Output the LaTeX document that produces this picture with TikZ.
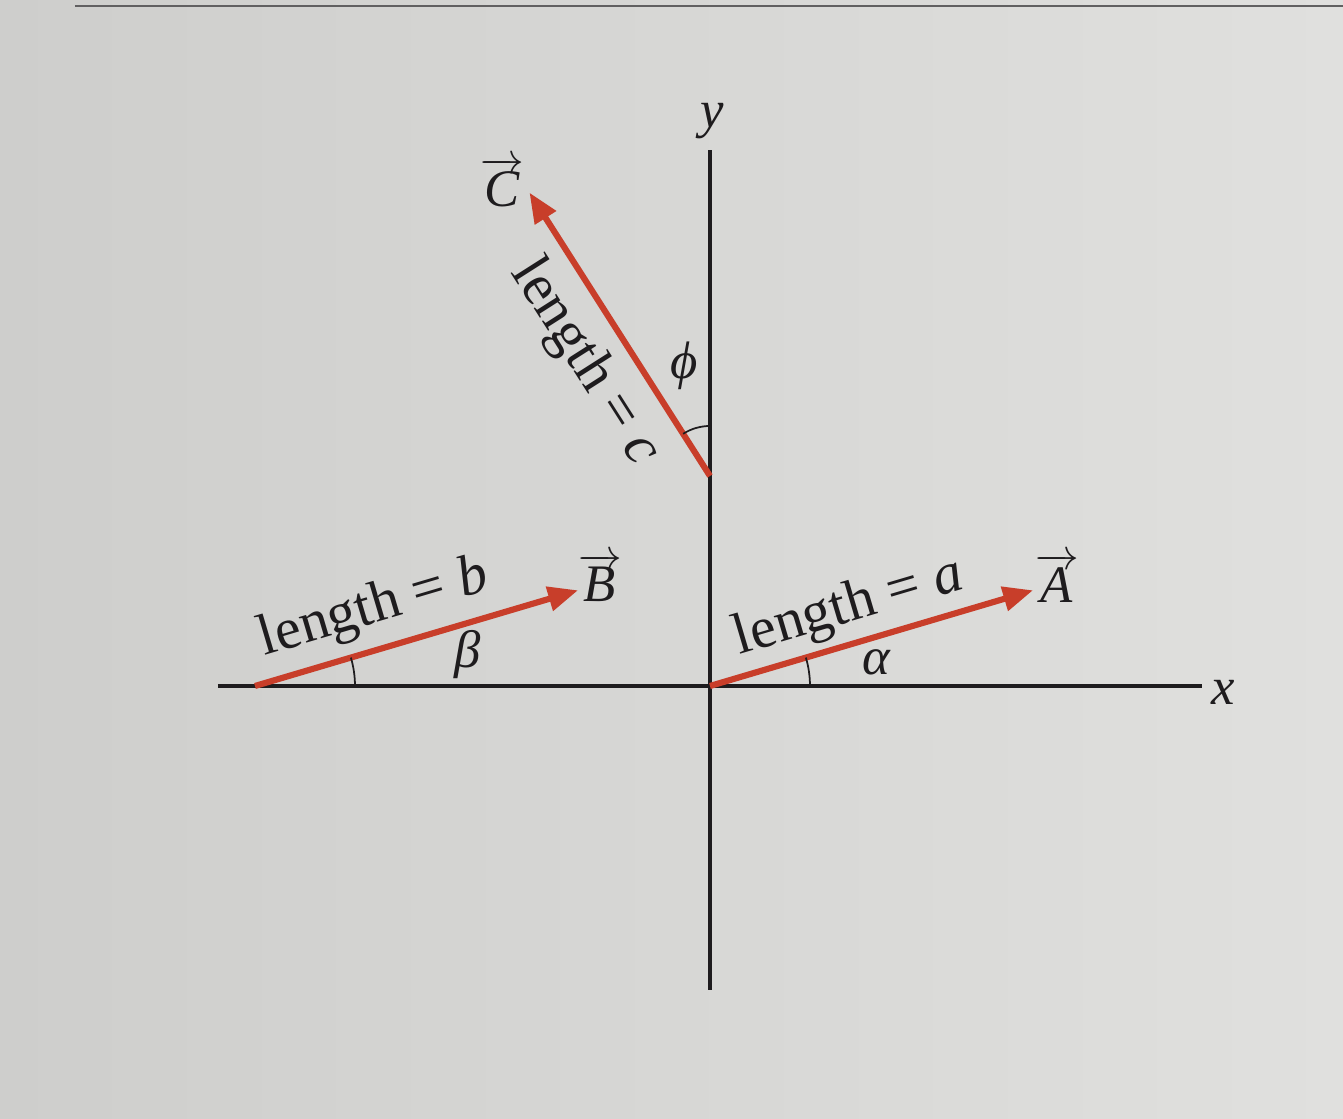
\documentclass[tikz,border=0pt]{standalone}
\usepackage{fontspec}
\setmainfont{Liberation Serif}
\usepackage{xcolor}
\usepackage{tikz}
\usetikzlibrary{arrows.meta}
\usetikzlibrary{calc}
\definecolor{vecred}{RGB}{200,62,42}
\definecolor{paperL}{RGB}{206,206,204}
\definecolor{paperR}{RGB}{224,224,222}
\definecolor{ink}{RGB}{30,28,30}
\tikzstyle{axis}=[draw=ink,line width=2pt]
\tikzstyle{vecarrow}=[draw=vecred,line width=3.5pt,-{Triangle[length=6mm,width=4.8mm,fill=vecred]}]
\tikzstyle{anglearc}=[draw=ink,line width=1pt]
\tikzstyle{lengthlabel}=[text=ink,inner sep=0pt,font=\fontsize{33}{40}\selectfont]
\tikzset{vecname/.style={text=ink,anchor=base,inner sep=0pt}}
\tikzset{anglelabel/.style={text=ink,inner sep=0pt}}

\begin{document}
\begin{tikzpicture}[font=\fontsize{30}{36}\selectfont]

   % paper and rule at the top
   \shade[left color=paperL, right color=paperR] (-14.2,-8.66) rectangle (12.66,13.72);
   \useasboundingbox (-14.2,-8.66) rectangle (12.66,13.72);
   \coordinate (ruleL) at (-12.7,13.6);
   \coordinate (ruleR) at (12.66,13.6);
   \draw[draw=ink!70, line width=1.2pt] (ruleL) -- (ruleR);

   % axes
   \coordinate (O) at (0,0);
   \coordinate (xL) at (-9.84,0);
   \coordinate (xR) at (9.84,0);
   \coordinate (yB) at (0,-6.08);
   \coordinate (yT) at (0,10.72);
   \path[axis] (xL) -- (xR);
   \path[axis] (yB) -- (yT);
   \node[vecname] (xlab) at (10.26,-0.38) {\textit{x}};
   \node[vecname] (ylab) at (0.04,11.16) {\textit{y}};

   % vectors
   \coordinate (Atail) at (O);
   \coordinate (Ahead) at ($(Atail)+(16.5:6.74)$);
   \coordinate (Btail) at (-9.1,0);
   \coordinate (Bhead) at ($(Btail)+(16.5:6.74)$);
   \coordinate (Ctail) at (0,4.2);
   \coordinate (Chead) at ($(Ctail)+(122.5:6.72)$);

   \foreach \source/\dest in {Atail/Ahead, Btail/Bhead, Ctail/Chead}
         \path[vecarrow] (\source) -- (\dest);

   % angles
   \draw[anglearc] ($(Atail)+(2,0)$) arc[start angle=0, end angle=16.5, radius=2];
   \draw[anglearc] ($(Btail)+(2,0)$) arc[start angle=0, end angle=16.5, radius=2];
   \draw[anglearc] ($(Ctail)+(0,1)$) arc[start angle=90, end angle=122.5, radius=1];

   \foreach \x/\y/\name/\lab in {3.34/0.48/alpha/α, -4.84/0.62/beta/β, -0.52/6.4/phi/ϕ}
          \node[anglelabel] (\name) at (\x,\y) {\textit{\lab}};

   % names and lengths
   \foreach \x/\y/\name/\lab in {6.94/1.66/nameA/A, -2.2/1.68/nameB/B, -4.16/9.58/nameC/C}
          \node[vecname] (\name) at (\x,\y) {$\overrightarrow{\textit{\lab}}$};

   \node[lengthlabel, rotate=16.5] (lena) at (2.78,1.56) {length = \textit{a}};
   \node[lengthlabel, rotate=16.5] (lenb) at (-6.72,1.54) {length = \textit{b}};
   \node[lengthlabel, rotate=-57.5] (lenc) at (-2.5,6.46) {length = \textit{c}};

\end{tikzpicture}
\end{document}
